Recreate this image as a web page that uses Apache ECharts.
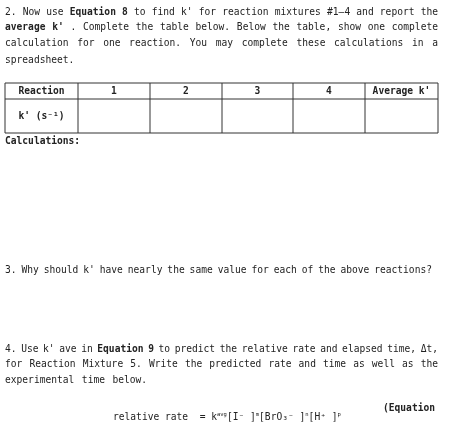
<!DOCTYPE html>
<html><head><meta charset="utf-8">
<script src="https://cdn.jsdelivr.net/npm/echarts@6/dist/echarts.min.js"></script>
<style>html,body{margin:0;padding:0;background:#fff}#main{width:474px;height:447px}</style>
</head><body><div id="main"></div>
<script>
// 文本行：[y, 右边界(0 表示不对齐), 内容]；以 * 开头的词为粗体
const para1 = [
  [12, 438, "2. Now use *Equation *8 to find k'  for reaction mixtures #1—4 and report the"],
  [27, 438, "*average *k' . Complete the table below. Below the table, show one complete"],
  [43, 438, "calculation for one reaction. You may complete these calculations in a"],
  [60, 0, "spreadsheet."]
];
const para3 = [[270, 432, "3. Why should k'  have nearly the same value for each of the above reactions?"]];
const para4 = [
  [349, 438, "4. Use k'  ave  in *Equation *9 to predict the relative rate and elapsed time, Δt,"],
  [364, 438, "for Reaction Mixture 5. Write the predicted rate and time as well as the"],
  [380, 0, "experimental time below."]
];
const headers = ['Reaction', '1', '2', '3', '4', "Average k'"];
const rowLabel = "k' (s⁻¹)";
const colEdges = [5, 78, 150, 222, 293, 365, 438];
const rowEdges = [83, 99, 133];

const FS = 9.6, CW = FS * 0.602, FONT = 'DejaVu Sans Mono';
const L = 5, R = 438;
const els = [];

function addLines(lines) {
  lines.forEach(([y, right, s]) => {
    const words = s.split(/\s+/);
    const lens = words.map(w => w.replace('*', '').length);
    const total = lens.reduce((a, b) => a + b, 0) * CW;
    const gap = right ? (right - L - total) / (words.length - 1) : CW * 1.3;
    let x = L;
    words.forEach((w, i) => {
      const bold = w.startsWith('*');
      els.push({type: 'text', x: x, y: y, style: {
        text: w.replace('*', ''), fill: '#222', fontFamily: FONT,
        fontSize: FS, fontWeight: bold ? 'bold' : 'normal', textVerticalAlign: 'middle'}});
      x += lens[i] * CW + gap;
    });
  });
}
addLines(para1); addLines(para3); addLines(para4);

// 表格
colEdges.forEach(x => els.push({type: 'line', shape: {x1: x, y1: rowEdges[0], x2: x, y2: rowEdges[2]}, style: {stroke: '#333', lineWidth: 1}}));
rowEdges.forEach(y => els.push({type: 'line', shape: {x1: L, y1: y, x2: R, y2: y}, style: {stroke: '#333', lineWidth: 1}}));
headers.forEach((h, i) => els.push({type: 'text', x: (colEdges[i] + colEdges[i + 1]) / 2, y: (rowEdges[0] + rowEdges[1]) / 2,
  style: {text: h, fontFamily: FONT, fontSize: FS, fontWeight: 'bold', fill: '#222', textAlign: 'center', textVerticalAlign: 'middle'}}));
els.push({type: 'text', x: (colEdges[0] + colEdges[1]) / 2, y: (rowEdges[1] + rowEdges[2]) / 2,
  style: {text: rowLabel, fontFamily: FONT, fontSize: FS, fontWeight: 'bold', fill: '#222', textAlign: 'center', textVerticalAlign: 'middle'}});
els.push({type: 'text', x: L, y: 141, style: {text: 'Calculations:', fontFamily: FONT, fontSize: FS, fontWeight: 'bold', fill: '#222', textVerticalAlign: 'middle'}});

// 公式
els.push({type: 'text', x: 113, y: 417, style: {
  text: '{n|relative rate  = k}{s|avg}{n|[I⁻ ]}{s|m}{n|[BrO₃⁻ ]}{s|n}{n|[H⁺ ]}{s|p}',
  rich: {n: {fontFamily: FONT, fontSize: FS, fill: '#222'}, s: {fontFamily: FONT, fontSize: 5.5, fill: '#222', verticalAlign: 'top'}},
  textVerticalAlign: 'middle'}});
els.push({type: 'text', x: 383, y: 408, style: {text: '(Equation', fontFamily: FONT, fontSize: FS, fontWeight: 'bold', fill: '#222', textVerticalAlign: 'middle'}});

const chart = echarts.init(document.getElementById('main'));
chart.setOption({backgroundColor: '#fff', graphic: {elements: els}});
</script></body></html>
